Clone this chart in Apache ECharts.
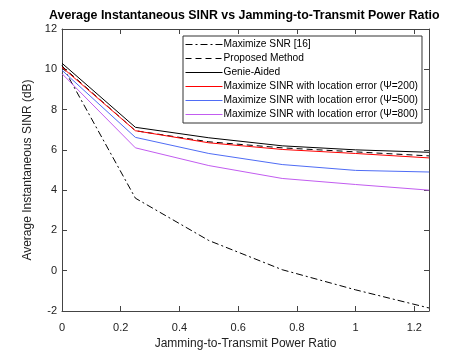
<!DOCTYPE html>
<html><head><meta charset="utf-8">
<script src="https://cdn.jsdelivr.net/npm/echarts@6/dist/echarts.min.js"></script>
<style>html,body{margin:0;padding:0;background:#fff}#c{width:474px;height:355px}</style>
</head><body><div id="c"></div>
<script>
const xValues = [0, 0.25, 0.5, 0.75, 1, 1.25];
const maxSNR = [10.2, 3.6, 1.5, 0.05, -0.95, -1.85];
const proposed = [10.15, 6.95, 6.4, 6.1, 5.9, 5.7];
const genie = [10.3, 7.12, 6.6, 6.2, 6.0, 5.88];
const psi200 = [10.1, 6.95, 6.35, 6.02, 5.82, 5.6];
const psi500 = [9.95, 6.62, 5.82, 5.27, 4.98, 4.9];
const psi800 = [9.78, 6.1, 5.22, 4.58, 4.28, 4.0];
const xTicks = [0, 0.2, 0.4, 0.6, 0.8, 1, 1.2];
const yTicks = [-2, 0, 2, 4, 6, 8, 10, 12];
const names = ['Maximize SNR [16]', 'Proposed Method', 'Genie-Aided',
  'Maximize SINR with location error (\u03A8=200)',
  'Maximize SINR with location error (\u03A8=500)',
  'Maximize SINR with location error (\u03A8=800)'];

const font = 'Liberation Sans, Arial, Helvetica, sans-serif';
const axisCol = '#444';
function pts(arr){ return xValues.map((x,i)=>[x, arr[i]]); }
function ser(name, arr, color, type){
  return {name, type:'line', data:pts(arr), symbol:'none', showSymbol:false,
    lineStyle:{color, width:1, type:type||'solid'}, itemStyle:{color}, animation:false};
}
const chart = echarts.init(document.getElementById('c'), null, {renderer:'canvas'});
const xBase = {type:'value', min:0, max:1.25,
  axisLine:{show:true, onZero:false, lineStyle:{color:axisCol, width:1}},
  splitLine:{show:false}};
const yBase = {type:'value', min:-2, max:12, interval:2,
  axisLine:{show:true, onZero:false, lineStyle:{color:axisCol, width:1}},
  splitLine:{show:false}};
chart.setOption({
  animation:false,
  backgroundColor:'#fff',
  title:{text:'Average Instantaneous SINR vs Jamming-to-Transmit Power Ratio',
    left:49, top:10, padding:0,
    textStyle:{fontFamily:font, fontSize:12.4, fontWeight:'bold', color:'#000'}},
  grid:{left:62, right:45, top:29, bottom:40, containLabel:false},
  legend:{orient:'vertical', left:183, top:36, padding:[3,4,3,2], itemGap:3,
    itemWidth:37, itemHeight:11, backgroundColor:'#fff', borderColor:'#333', borderWidth:1,
    itemStyle:{color:'rgba(0,0,0,0)', borderWidth:0, opacity:0},
    lineStyle:{width:1},
    textStyle:{fontFamily:font, fontSize:10.2, lineHeight:11, color:'#000', padding:[0,0,0,-4]},
    data:names},
  xAxis:[
    Object.assign({}, xBase, {position:'bottom', name:'Jamming-to-Transmit Power Ratio',
      nameLocation:'middle', nameGap:27,
      nameTextStyle:{fontFamily:font, fontSize:12, color:'#222'},
      axisTick:{show:true, inside:true, length:5, lineStyle:{color:axisCol}, customValues:xTicks},
      axisLabel:{fontFamily:font, fontSize:11, color:'#222', margin:11, customValues:xTicks,
        formatter:v=>String(Math.round(v*10)/10)}}),
    Object.assign({}, xBase, {position:'top',
      axisTick:{show:true, inside:true, length:5, lineStyle:{color:axisCol}, customValues:xTicks},
      axisLabel:{show:false}})
  ],
  yAxis:[
    Object.assign({}, yBase, {position:'left', name:'Average Instantaneous SINR (dB)',
      nameLocation:'middle', nameGap:20,
      nameTextStyle:{fontFamily:font, fontSize:12, color:'#222'},
      axisTick:{show:true, inside:true, length:5, lineStyle:{color:axisCol}},
      axisLabel:{fontFamily:font, fontSize:11, color:'#222', margin:5}}),
    Object.assign({}, yBase, {position:'right',
      axisTick:{show:true, inside:true, length:5, lineStyle:{color:axisCol}},
      axisLabel:{show:false}})
  ],
  series:[
    ser(names[0], maxSNR, '#000', [7,3,2,3]),
    ser(names[1], proposed, '#000', [6,4]),
    ser(names[2], genie, '#000'),
    ser(names[3], psi200, '#ff0000'),
    ser(names[4], psi500, '#4f6cf5'),
    ser(names[5], psi800, '#c25cf0')
  ]
});
</script></body></html>
